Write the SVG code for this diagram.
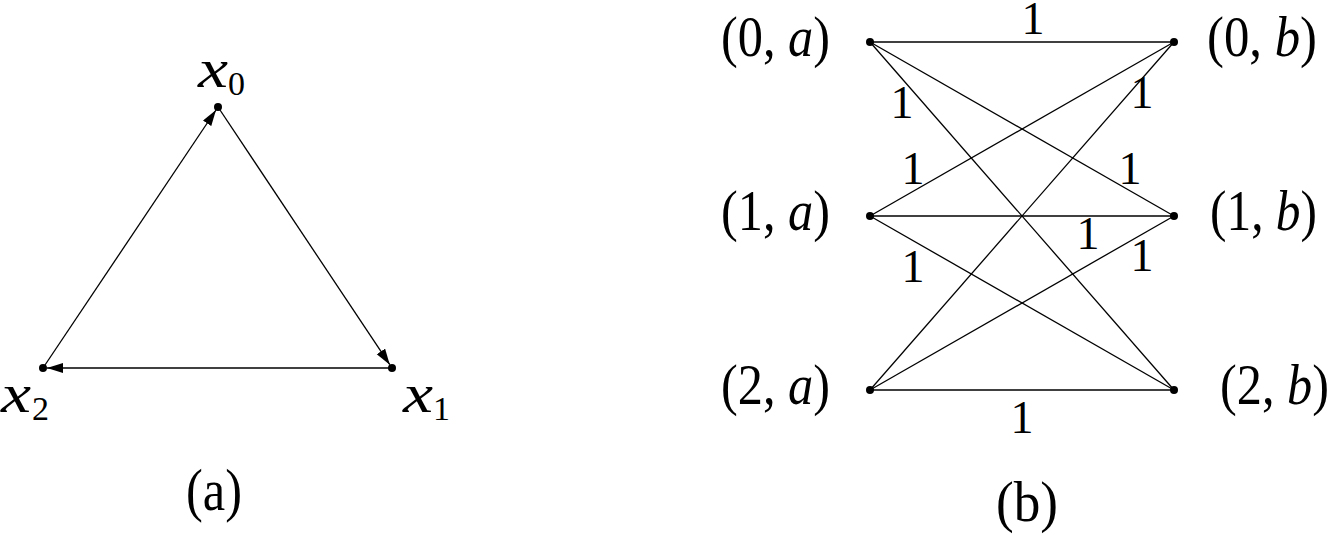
<svg xmlns="http://www.w3.org/2000/svg" width="1333" height="536" viewBox="0 0 1333 536" font-family="'Liberation Serif', 'Times New Roman', serif">
<style>
text{font-family:'Liberation Serif','Times New Roman',serif;fill:#000}
.i{font-style:italic}
.lbl{font-size:57px}
.w{font-size:46px}
.e{stroke:#000;stroke-width:1.3;fill:none}
.d{fill:#000}
</style>
<defs>
<marker id="ah" markerUnits="userSpaceOnUse" markerWidth="17" markerHeight="11" refX="16" refY="5" orient="auto">
<path d="M0,0 L16,5 L0,10 z" fill="#000"/>
</marker>
</defs>
<rect width="1333" height="536" fill="#fff"/>
<g id="connectors">
<line class="e" x1="43" y1="368" x2="216" y2="110" marker-end="url(#ah)"/>
<line class="e" x1="218" y1="107" x2="389.8" y2="364.7" marker-end="url(#ah)"/>
<line class="e" x1="392" y1="368" x2="47" y2="368" marker-end="url(#ah)"/>
<line class="e" x1="870" y1="42" x2="1174" y2="42"/>
<line class="e" x1="870" y1="42" x2="1174" y2="216"/>
<line class="e" x1="870" y1="42" x2="1174" y2="390"/>
<line class="e" x1="870" y1="216" x2="1174" y2="42"/>
<line class="e" x1="870" y1="216" x2="1174" y2="216"/>
<line class="e" x1="870" y1="216" x2="1174" y2="390"/>
<line class="e" x1="870" y1="390" x2="1174" y2="42"/>
<line class="e" x1="870" y1="390" x2="1174" y2="216"/>
<line class="e" x1="870" y1="390" x2="1174" y2="390"/>
<g class="w" text-anchor="middle">
<text x="1033" y="34">1</text>
<text x="902" y="118">1</text>
<text x="1142" y="108">1</text>
<text x="913" y="184">1</text>
<text x="1130" y="184">1</text>
<text x="1088" y="249">1</text>
<text x="913" y="282">1</text>
<text x="1142" y="271">1</text>
<text x="1022" y="433">1</text>
</g>
</g>
<g id="x0">
<circle class="d" cx="218" cy="107" r="4"/>
<text class="i" x="198" y="87" font-size="54" textLength="30" lengthAdjust="spacingAndGlyphs">x</text>
<text x="228" y="95" font-size="33" textLength="17" lengthAdjust="spacingAndGlyphs">0</text>
</g>
<g id="x1">
<circle class="d" cx="392" cy="368" r="4"/>
<text class="i" x="403" y="412" font-size="54" textLength="30" lengthAdjust="spacingAndGlyphs">x</text>
<text x="433" y="420" font-size="33" textLength="17" lengthAdjust="spacingAndGlyphs">1</text>
</g>
<g id="x2">
<circle class="d" cx="43" cy="368" r="4"/>
<text class="i" x="1" y="412" font-size="54" textLength="30" lengthAdjust="spacingAndGlyphs">x</text>
<text x="32" y="420" font-size="33" textLength="17" lengthAdjust="spacingAndGlyphs">2</text>
</g>
<g id="caption-a"><text x="186" y="510" font-size="60" textLength="56" lengthAdjust="spacingAndGlyphs">(a)</text></g>
<g id="caption-b"><text x="996" y="521" font-size="58" textLength="62" lengthAdjust="spacingAndGlyphs">(b)</text></g>
<g id="n0a">
<circle class="d" cx="870" cy="42" r="4"/>
<text class="lbl" x="721" y="56" textLength="109" lengthAdjust="spacingAndGlyphs">(0, <tspan class="i">a</tspan>)</text>
</g>
<g id="n1a">
<circle class="d" cx="870" cy="216" r="4"/>
<text class="lbl" x="721" y="230" textLength="109" lengthAdjust="spacingAndGlyphs">(1, <tspan class="i">a</tspan>)</text>
</g>
<g id="n2a">
<circle class="d" cx="870" cy="390" r="4"/>
<text class="lbl" x="721" y="404" textLength="109" lengthAdjust="spacingAndGlyphs">(2, <tspan class="i">a</tspan>)</text>
</g>
<g id="n0b">
<circle class="d" cx="1174" cy="42" r="4"/>
<text class="lbl" x="1207" y="56" textLength="110" lengthAdjust="spacingAndGlyphs">(0, <tspan class="i">b</tspan>)</text>
</g>
<g id="n1b">
<circle class="d" cx="1174" cy="216" r="4"/>
<text class="lbl" x="1210" y="230" textLength="107" lengthAdjust="spacingAndGlyphs">(1, <tspan class="i">b</tspan>)</text>
</g>
<g id="n2b">
<circle class="d" cx="1174" cy="390" r="4"/>
<text class="lbl" x="1220" y="404" textLength="109" lengthAdjust="spacingAndGlyphs">(2, <tspan class="i">b</tspan>)</text>
</g>
</svg>
